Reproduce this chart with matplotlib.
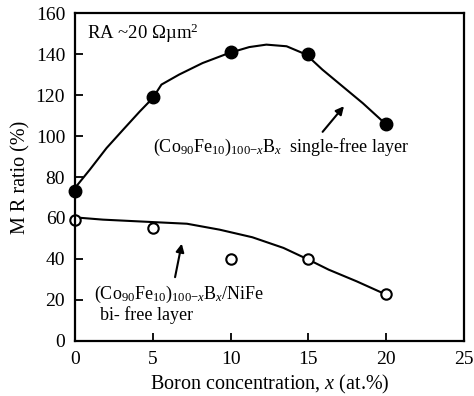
import matplotlib
matplotlib.use('Agg')
import matplotlib.pyplot as plt

plt.rcParams['font.family'] = ['Liberation Serif', 'DejaVu Serif']
plt.rcParams['mathtext.fontset'] = 'custom'
plt.rcParams['mathtext.rm'] = 'Liberation Serif'
plt.rcParams['mathtext.it'] = 'Liberation Serif:italic'

# measured points
boron = [0, 5, 10, 15, 20]
mr_single = [73, 119, 141, 140, 106]
mr_bi = [59, 55, 40, 40, 23]

# hand-drawn guide curves
fit_single_x = [0, 0.96, 2.03, 3.1, 4.17, 5.0, 5.56, 6.7, 8.2, 9.9, 11.2, 12.3,
                13.6, 14.85, 15.9, 17.2, 18.5, 19.9]
fit_single_y = [74.6, 83.6, 94.1, 103.1, 112, 118.5, 125.1, 130, 135.6, 140.5,
                143.4, 144.6, 143.8, 139.8, 132.4, 124.2, 116, 106.3]
fit_bi_x = [0, 1.8, 3.95, 7.2, 9.3, 11.4, 13.4, 15.0, 16.3, 18.1, 20.0]
fit_bi_y = [60.3, 59.2, 58.4, 57.2, 54.3, 50.6, 45.4, 39.7, 34.8, 29.1, 22.6]

fig = plt.figure(figsize=(4.74, 3.96), dpi=100)
ax = fig.add_axes([0.158, 0.139, 0.821, 0.828])

ax.plot(fit_single_x, fit_single_y, color='black', lw=1.5)
ax.plot(fit_bi_x, fit_bi_y, color='black', lw=1.5)
ax.plot(boron, mr_single, 'o', color='black', ms=9, clip_on=False)
ax.plot(boron, mr_bi, 'o', mfc='white', mec='black', mew=1.5, ms=7.5, clip_on=False)

ax.set_xlim(0, 25)
ax.set_ylim(0, 160)
ax.set_xticks([0, 5, 10, 15, 20, 25])
ax.set_yticks(range(0, 161, 20))
ax.tick_params(direction='in', length=6, width=1.3, labelsize=14, pad=7)
for s in ax.spines.values():
    s.set_linewidth(1.6)

ax.set_xlabel('Boron concentration, $x$ (at.%)', fontsize=14.5)
ax.set_ylabel('M R ratio (%)', fontsize=14.5, labelpad=4)

ax.text(0.8, 150, 'RA ~20 \u03a9\u00b5m$^2$', fontsize=13.5, va='center')
ax.text(5.0, 94.5, r'(Co$_{90}$Fe$_{10}$)$_{100\mathrm{-}x}$B$_x$  single-free layer',
        fontsize=13, va='center')
ax.annotate('', xy=(17.4, 115.6), xytext=(15.8, 101),
            arrowprops=dict(arrowstyle='-|>', color='black', lw=1.5, mutation_scale=12))
ax.text(1.2, 22.5, r'(Co$_{90}$Fe$_{10}$)$_{100\mathrm{-}x}$B$_x$/NiFe',
        fontsize=13, va='center')
ax.text(1.6, 12.5, 'bi- free layer', fontsize=13, va='center')
ax.annotate('', xy=(6.9, 48.8), xytext=(6.4, 29.8),
            arrowprops=dict(arrowstyle='-|>', color='black', lw=1.5, mutation_scale=12))

fig.savefig('out.png', dpi=100)
